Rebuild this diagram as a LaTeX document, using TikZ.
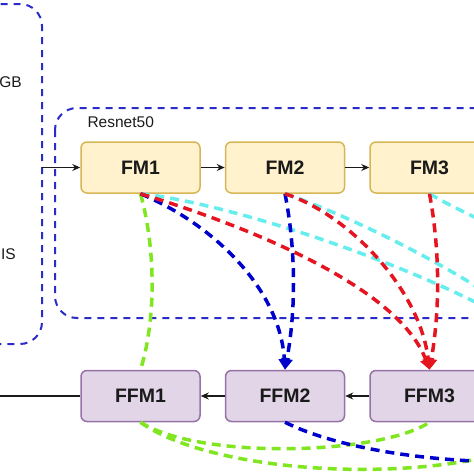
\documentclass[tikz,border=0pt]{standalone}
\usepackage{fontspec}
\setmainfont{Liberation Sans}
\usetikzlibrary{arrows.meta}
\definecolor{fmfill}{HTML}{FFF2CC}
\definecolor{fmline}{HTML}{D6B656}
\definecolor{ffmfill}{HTML}{E1D5E7}
\definecolor{ffmline}{HTML}{9673A6}
\definecolor{boxblue}{HTML}{2B2BC8}
\definecolor{lnblue}{HTML}{0000CC}
\definecolor{lnred}{HTML}{E51420}
\definecolor{lngreen}{HTML}{80E620}
\definecolor{lncyan}{HTML}{66EEEE}
\definecolor{txt}{HTML}{1A1A1A}

\begin{document}
\begin{tikzpicture}[x=1pt, y=1pt, node distance=144.5pt,
	fmbox/.style={draw=fmline, fill=fmfill, line width=1.5pt, rounded corners=6pt, minimum width=119pt, minimum height=51pt, inner sep=0pt, text=txt, font=\fontsize{19.5}{22}\selectfont\bfseries},
	ffmbox/.style={fmbox, draw=ffmline, fill=ffmfill},
	frame/.style={draw=boxblue, line width=2pt, dash pattern=on 7pt off 6pt, rounded corners=22pt},
	link/.style={line width=3.5pt, dash pattern=on 9pt off 6pt},
	tip/.style={-{Triangle[length=11pt, width=11pt]}},
	flow/.style={-{Stealth[length=8pt, width=7pt]}, line width=1.2pt, txt}]
	\path[use as bounding box] (0,0) rectangle (474,-474);
	\clip (0,0) rectangle (474,-474);

	% frames
	\draw[frame] (-100,-4) rectangle (42,-344);
	\draw[frame] (55,-108) rectangle (640,-318);
	\node[anchor=west, text=txt, font=\fontsize{15.5}{18}\selectfont] (resnet) at (84,-122) {Resnet50};
	\node[anchor=east, text=txt, font=\fontsize{15.5}{18}\selectfont, inner sep=0pt] (rgb) at (22,-82) {GB};
	\node[anchor=east, text=txt, font=\fontsize{15.5}{18}\selectfont, inner sep=0pt] (dep) at (16,-254) {IS};

	% feature maps
	\node[fmbox] (fm1) at (140.5,-167.5) {FM1};
	\node[fmbox, right of=fm1] (fm2) {FM2};
	\node[fmbox, right of=fm2] (fm3) {FM3};
	\node[ffmbox, below of=fm1, yshift=-84pt] (ffm1) {FFM1};
	\node[ffmbox, right of=ffm1] (ffm2) {FFM2};
	\node[ffmbox, right of=ffm2] (ffm3) {FFM3};

	\coordinate (inp) at (42,-167.5);
	\coordinate (outp) at (-20,-396);
	\coordinate (ffm4n) at ([xshift=144.5pt] ffm3.north);
	\coordinate (ffm4s) at ([xshift=144.5pt] ffm3.south);
	\coordinate (ffm5n) at ([xshift=289pt] ffm3.north);
	\coordinate (ffm5s) at ([xshift=289pt] ffm3.south);

	\draw[flow] (inp) -- (fm1);
	\draw[flow] (fm1) -- (fm2);
	\draw[flow] (fm2) -- (fm3);
	\draw[flow] (ffm3) -- (ffm2);
	\draw[flow] (ffm2) -- (ffm1);
	\draw[line width=1.2pt, txt] (ffm1) -- (outp);

	% skip links
	\draw[link, lncyan] (fm1.south) .. controls (250,-205) and (520,-300) .. (ffm4n);
	\draw[link, lncyan] (fm2.south) .. controls (350,-215) and (530,-300) .. (ffm4n);
	\draw[link, lncyan] (fm3.south) .. controls (490,-230) and (680,-300) .. (ffm5n);
	\draw[link, lngreen] (fm1.south) .. controls (156,-250) and (156,-320) .. (ffm1.north);
	\draw[link, lnblue, tip] (fm1.south) .. controls (215,-225) and (280,-290) .. (ffm2.north);
	\draw[link, lnblue, tip] (fm2.south) .. controls (296,-250) and (296,-310) .. (ffm2.north);
	\draw[link, lnred, tip] (fm1.south) .. controls (260,-230) and (400,-290) .. (ffm3.north);
	\draw[link, lnred, tip] (fm2.south) .. controls (350,-215) and (420,-290) .. (ffm3.north);
	\draw[link, lnred, tip] (fm3.south) .. controls (440,-250) and (440,-310) .. (ffm3.north);

	\draw[link, lngreen] (ffm1.south) .. controls (200,-460) and (380,-455) .. (ffm3.south);
	\draw[link, lngreen] (ffm1.south) .. controls (220,-480) and (480,-490) .. (ffm4s);
	\draw[link, lnblue] (ffm2.south) .. controls (380,-470) and (620,-480) .. (ffm5s);
\end{tikzpicture}
\end{document}
